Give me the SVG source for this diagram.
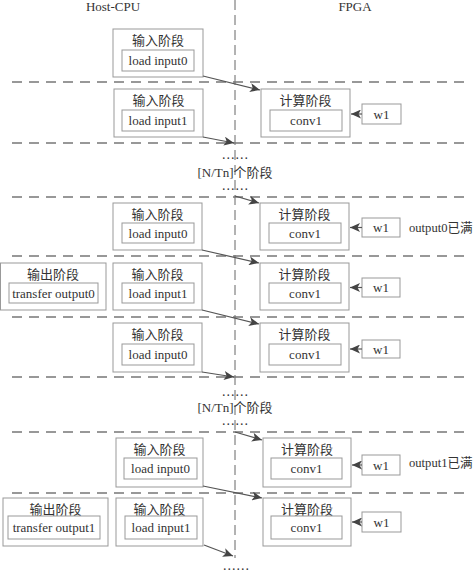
<svg xmlns="http://www.w3.org/2000/svg" width="474" height="571" viewBox="0 0 474 571">
<defs>
<style>
.t{font-family:"Liberation Serif","Noto Sans CJK SC",serif;font-size:13px;fill:#333;text-anchor:middle}
.ts{font-family:"Liberation Serif","Noto Sans CJK SC",serif;font-size:12.6px;fill:#333}
.dots{font-family:"Liberation Serif",serif;font-size:10px;fill:#333;text-anchor:middle;letter-spacing:2px;font-weight:bold}
.box{fill:#fff;stroke:#999;stroke-width:1}
.hd{stroke:#777;stroke-width:1.3;stroke-dasharray:10 7;fill:none}
.vd{stroke:#666;stroke-width:1;stroke-dasharray:10 5;fill:none}
.ar{stroke:#555;stroke-width:1.2;fill:none;marker-end:url(#ah)}
</style>
<marker id="ah" markerUnits="userSpaceOnUse" markerWidth="11" markerHeight="9" refX="10" refY="4.5" orient="auto">
<path d="M0,0 L10,4.5 L0,9 L2.5,4.5 z" fill="#444"/>
</marker>
</defs>
<rect width="474" height="571" fill="#fff"/>
<text class="t" x="113" y="11">Host-CPU</text>
<text class="t" x="355" y="11">FPGA</text>

<g id="dividers">
<line class="vd" x1="235" y1="0" x2="235" y2="558"/>
<line class="hd" x1="12" y1="82" x2="466" y2="82"/>
<line class="hd" x1="12" y1="143" x2="466" y2="143"/>
<line class="hd" x1="12" y1="197" x2="466" y2="197"/>
<line class="hd" x1="12" y1="256" x2="466" y2="256"/>
<line class="hd" x1="12" y1="317" x2="466" y2="317"/>
<line class="hd" x1="12" y1="377" x2="466" y2="377"/>
<line class="hd" x1="12" y1="432" x2="466" y2="432"/>
<line class="hd" x1="12" y1="493" x2="466" y2="493"/>
</g>

<g id="gap1">
<text class="dots" x="236" y="159">......</text>
<text class="t" x="235" y="176.5">[N/Tn]个阶段</text>
<text class="dots" x="236" y="189.5">......</text>
</g>
<g id="gap2">
<text class="dots" x="236" y="396">......</text>
<text class="t" x="235" y="411.5">[N/Tn]个阶段</text>
<text class="dots" x="236" y="424.5">......</text>
</g>
<text class="dots" x="237" y="570">......</text>

<!-- Row 1 -->
<g id="in1"><rect class="box" x="113" y="29" width="90" height="48"/><text class="t" x="158" y="45">输入阶段</text><rect class="box" x="122" y="50" width="72" height="21"/><text class="t" x="158" y="65">load input0</text></g>
<!-- Row 2 -->
<g id="in2"><rect class="box" x="114" y="89" width="89" height="48"/><text class="t" x="158.5" y="105">输入阶段</text><rect class="box" x="122" y="110" width="72" height="21"/><text class="t" x="158" y="125">load input1</text></g>
<g id="cp2"><rect class="box" x="261" y="89" width="89" height="48"/><text class="t" x="305.5" y="105">计算阶段</text><rect class="box" x="270" y="110" width="72" height="21"/><text class="t" x="306" y="125">conv1</text></g>
<g id="w2"><rect class="box" x="362" y="104" width="39" height="20"/><text class="t" x="381.5" y="118.5">w1</text></g>
<!-- Row 3 -->
<g id="in3"><rect class="box" x="113" y="203" width="89" height="47"/><text class="t" x="157.5" y="219">输入阶段</text><rect class="box" x="122" y="223" width="72" height="20"/><text class="t" x="158" y="237.5">load input0</text></g>
<g id="cp3"><rect class="box" x="260" y="203" width="89" height="47"/><text class="t" x="304.5" y="219">计算阶段</text><rect class="box" x="269" y="223" width="72" height="20"/><text class="t" x="305" y="237.5">conv1</text></g>
<g id="w3"><rect class="box" x="362" y="218" width="38" height="19"/><text class="t" x="381" y="232">w1</text></g>
<text class="ts" x="409" y="231.5">output0已满</text>
<!-- Row 4 -->
<g id="out4"><rect class="box" x="0.5" y="263" width="105.5" height="47"/><text class="t" x="53" y="279">输出阶段</text><rect class="box" x="9" y="283" width="89" height="20"/><text class="t" x="53.5" y="297.5">transfer output0</text></g>
<g id="in4"><rect class="box" x="113" y="263" width="89" height="47"/><text class="t" x="157.5" y="279">输入阶段</text><rect class="box" x="122" y="283" width="72" height="20"/><text class="t" x="158" y="297.5">load input1</text></g>
<g id="cp4"><rect class="box" x="260" y="263" width="89" height="47"/><text class="t" x="304.5" y="279">计算阶段</text><rect class="box" x="269" y="283" width="72" height="20"/><text class="t" x="305" y="297.5">conv1</text></g>
<g id="w4"><rect class="box" x="362" y="278" width="38" height="19"/><text class="t" x="381" y="292">w1</text></g>
<!-- Row 5 -->
<g id="in5"><rect class="box" x="113" y="323" width="89" height="49"/><text class="t" x="157.5" y="339">输入阶段</text><rect class="box" x="122" y="344" width="72" height="21"/><text class="t" x="158" y="359">load input0</text></g>
<g id="cp5"><rect class="box" x="260" y="323" width="89" height="49"/><text class="t" x="304.5" y="339">计算阶段</text><rect class="box" x="269" y="344" width="72" height="21"/><text class="t" x="305" y="359">conv1</text></g>
<g id="w5"><rect class="box" x="362" y="340" width="38" height="18"/><text class="t" x="381" y="353.5">w1</text></g>
<!-- Row 6 -->
<g id="in6"><rect class="box" x="116" y="438" width="87" height="49"/><text class="t" x="159.5" y="454">输入阶段</text><rect class="box" x="124" y="458" width="73" height="21"/><text class="t" x="160.5" y="473">load input0</text></g>
<g id="cp6"><rect class="box" x="263" y="438" width="88" height="49"/><text class="t" x="307" y="454">计算阶段</text><rect class="box" x="271" y="458" width="71" height="21"/><text class="t" x="306.5" y="473">conv1</text></g>
<g id="w6"><rect class="box" x="362" y="455" width="38" height="20"/><text class="t" x="381" y="469.5">w1</text></g>
<text class="ts" x="409" y="466.5">output1已满</text>
<!-- Row 7 -->
<g id="out7"><rect class="box" x="3" y="498" width="105" height="48"/><text class="t" x="55.5" y="514">输出阶段</text><rect class="box" x="8" y="516" width="92" height="23"/><text class="t" x="54" y="532">transfer output1</text></g>
<g id="in7"><rect class="box" x="116" y="498" width="87" height="48"/><text class="t" x="159.5" y="514">输入阶段</text><rect class="box" x="125" y="516" width="72" height="23"/><text class="t" x="161" y="532">load input1</text></g>
<g id="cp7"><rect class="box" x="263" y="498" width="88" height="48"/><text class="t" x="307" y="514">计算阶段</text><rect class="box" x="271" y="516" width="71" height="23"/><text class="t" x="306.5" y="532">conv1</text></g>
<g id="w7"><rect class="box" x="362" y="512" width="39" height="20"/><text class="t" x="381.5" y="526.5">w1</text></g>

<g id="connectors">
<line class="ar" x1="203" y1="76" x2="260" y2="90"/>
<line class="ar" x1="203" y1="137" x2="234" y2="143"/>
<line class="ar" x1="235" y1="196" x2="259" y2="203"/>
<line class="ar" x1="202" y1="250" x2="259" y2="263"/>
<line class="ar" x1="202" y1="310" x2="259" y2="324"/>
<line class="ar" x1="202" y1="372" x2="234" y2="377"/>
<line class="ar" x1="235" y1="432" x2="262" y2="440"/>
<line class="ar" x1="203" y1="486" x2="262" y2="498"/>
<line class="ar" x1="204" y1="545" x2="233" y2="556"/>
<line class="ar" x1="362" y1="114" x2="351" y2="114"/>
<line class="ar" x1="362" y1="227.5" x2="350" y2="227.5"/>
<line class="ar" x1="362" y1="287.5" x2="350" y2="287.5"/>
<line class="ar" x1="362" y1="349" x2="350" y2="349"/>
<line class="ar" x1="362" y1="465" x2="352" y2="465"/>
<line class="ar" x1="362" y1="522" x2="352" y2="522"/>
</g>
</svg>
